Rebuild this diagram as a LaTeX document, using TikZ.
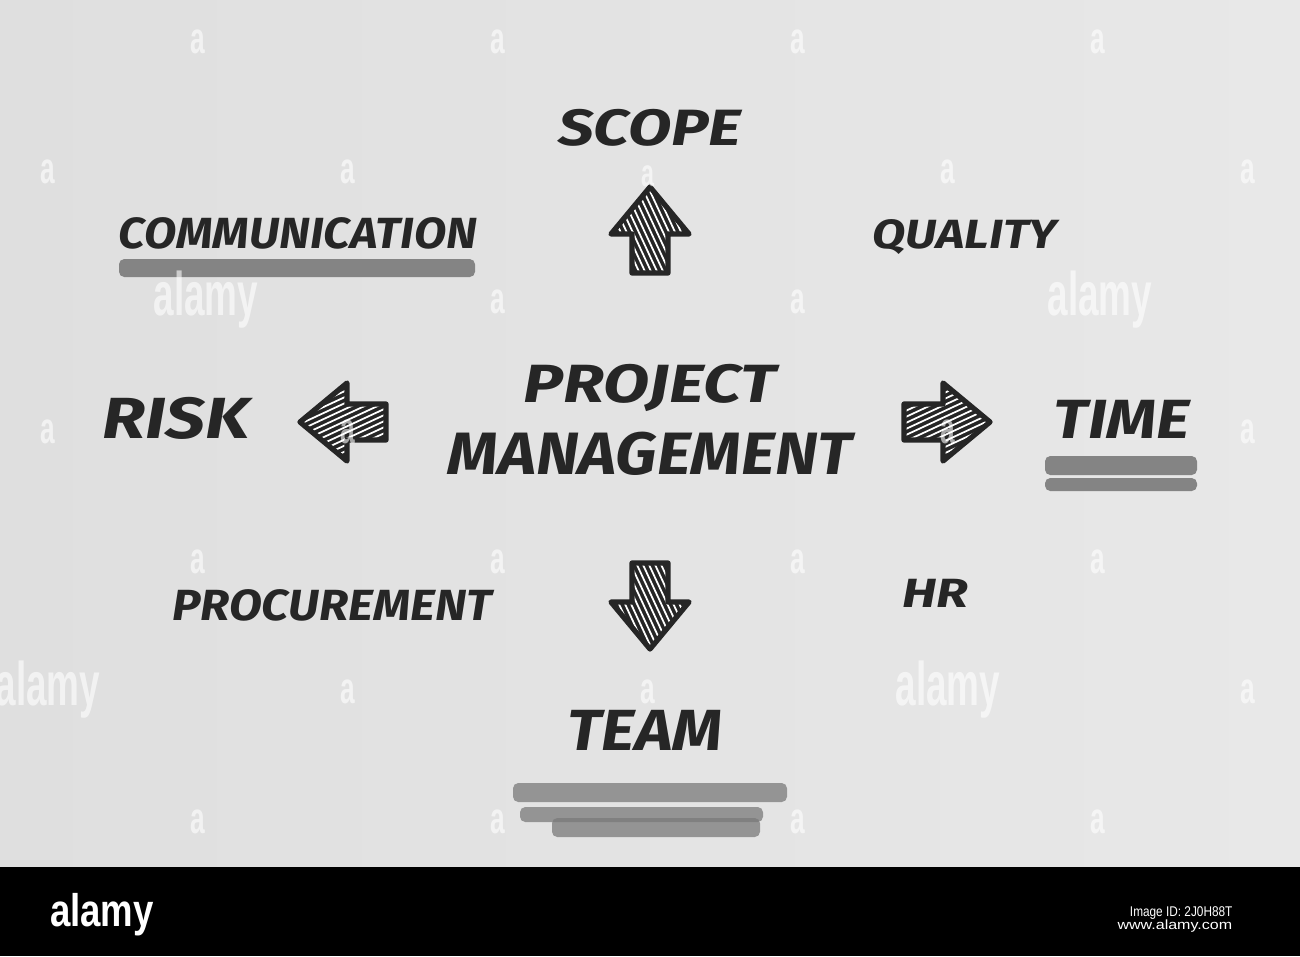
\documentclass[tikz,border=0pt]{standalone}
\usepackage{fontspec}
\setmainfont{Fira Sans}
\newfontfamily\logofont{Liberation Sans}
\usetikzlibrary{positioning}

\definecolor{ink}{HTML}{262626}
\definecolor{marker}{HTML}{7A7A7A}
\definecolor{paperL}{HTML}{DFDFDF}
\definecolor{paperM}{HTML}{CFCFCF}
\definecolor{paperR}{HTML}{E8E8E8}

\tikzset{
  brush/.style 2 args={font=\bfseries\itshape\fontsize{#1}{#1}\selectfont, text=ink,
    inner sep=0pt, anchor=base, xscale=#2, transform shape},
  markerbar/.style={fill=marker, opacity=0.9, rounded corners=1.5pt},
  stamp/.style={font=\logofont\bfseries\fontsize{#1}{#1}\selectfont, text=white, opacity=0.6,
    xscale=0.6, transform shape, inner sep=0pt, anchor=base},
  hatcharrow/.pic={
    % body with white hatching
    \begin{scope}
      \clip (-43,-18) -- (-4,-18) -- (-4,-39) -- (43,0) -- (-4,39) -- (-4,18) -- (-43,18) -- cycle;
      \fill[ink] (-50,-50) rectangle (50,50);
      \foreach \s in {-240,-227,...,50}
        \draw[white, line width=0.5pt] (\s,45) -- ++(200,-93);
    \end{scope}
    % outline
    \draw[ink, line width=1.5pt, line join=round]
      (-43,-18) -- (-4,-18) -- (-4,-39) -- (43,0) -- (-4,39) -- (-4,18) -- (-43,18) -- cycle;
  }
}

\begin{document}
\begin{tikzpicture}[x=0.01cm, y=-0.01cm]
  \useasboundingbox (0,0) rectangle (1300,956);

  % Paper
  \shade[left color=paperL, middle color=paperM, right color=paperR] (0,0) rectangle (1300,867);

  % --- WORDS ---
  \node[brush={14.5pt}{1.24}] (scope) at (650,145) {SCOPE};
  \node[brush={12.4pt}{1.08}] (communication) at (298,248) {COMMUNICATION};
  \node[brush={11.6pt}{1.19}] (quality) at (965,248) {QUALITY};
  \node[brush={15.3pt}{1.25}] (project) at (650,402) {PROJECT};
  \node[brush={17pt}{1.09}] (management) at (650,474) {MANAGEMENT};
  \node[brush={16.5pt}{1.22}] (risk) at (176,438) {RISK};
  \node[brush={15.7pt}{1.17}] (time) at (1122,438) {TIME};
  \node[brush={12.4pt}{1.10}] (procurement) at (332,620) {PROCUREMENT};
  \node[brush={11.6pt}{1.28}] (hr) at (935,607) {HR};
  \node[brush={16.5pt}{1.11}] (team) at (645,750) {TEAM};

  % --- MARKER STROKES ---
  \fill[markerbar] (119,259) rectangle (475,277);
  \fill[markerbar] (1045,456) rectangle (1197,475);
  \fill[markerbar] (1045,478) rectangle (1197,491);
  \fill[markerbar, opacity=0.75] (513,783) rectangle (787,802);
  \fill[markerbar, opacity=0.75] (520,807) rectangle (763,822);
  \fill[markerbar, opacity=0.75] (552,818) rectangle (760,837);

  % --- ARROWS ---
  \pic[rotate=90] (upArrow) at (650,230) {hatcharrow};
  \pic[rotate=180] (leftArrow) at (343,422) {hatcharrow};
  \pic (rightArrow) at (947,422) {hatcharrow};
  \pic[rotate=-90] (downArrow) at (650,606) {hatcharrow};

  % --- WATERMARK ---
  \foreach \yy/\xlist in {40/{198,498,798,1098}, 170/{48,348,948,1248},
      300/{498,798}, 430/{48,348,948,1248}, 560/{198,498,798,1098},
      690/{348,648,1248}, 820/{198,498,798,1098}}
    \foreach \xx in \xlist
      \node[stamp=12.5pt] at (\xx,\yy+13) {a};
  \node[stamp=11pt] at (648,186) {a};
  \foreach \xx/\yy in {206/300, 1100/300, 48/690, 948/690}
    \node[stamp=17.5pt] at (\xx,\yy+15) {alamy};

  % --- FOOTER ---
  \fill[black] (0,867) rectangle (1300,956);
  \node[stamp=13pt, opacity=1, xscale=0.8/0.6] (logo) at (102,926) {alamy};
  \node[font=\logofont\fontsize{4pt}{4pt}\selectfont, text=white, inner sep=0pt,
    anchor=base east, xscale=0.84, transform shape] (imageid) at (1233,916) {Image ID: 2J0H88T};
  \node[font=\logofont\fontsize{3.8pt}{3.8pt}\selectfont, text=white, inner sep=0pt,
    anchor=base east, xscale=1.2, transform shape] (site) at (1233,929) {www.alamy.com};
\end{tikzpicture}
\end{document}
